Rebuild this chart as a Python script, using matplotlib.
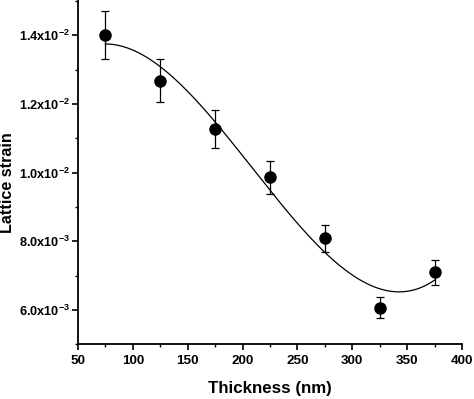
import numpy as np
import matplotlib
matplotlib.use("Agg")
import matplotlib.pyplot as plt
from matplotlib.ticker import FixedLocator, FixedFormatter, MultipleLocator

thickness = [75, 125, 175, 225, 275, 325, 375]
strain = [0.01400, 0.01268, 0.01127, 0.00986, 0.00809, 0.00607, 0.00710]
strain_err = [0.00070, 0.00063, 0.00055, 0.00049, 0.00040, 0.00031, 0.00036]

x_ticks = [50, 100, 150, 200, 250, 300, 350, 400]
y_ticks = [0.006, 0.008, 0.010, 0.012, 0.014]
y_tick_labels = [r'6.0x10$^{-3}$', r'8.0x10$^{-3}$', r'1.0x10$^{-2}$',
                 r'1.2x10$^{-2}$', r'1.4x10$^{-2}$']

plt.rcParams['font.family'] = ['Liberation Sans', 'DejaVu Sans']
plt.rcParams['font.weight'] = 'bold'
plt.rcParams['mathtext.fontset'] = 'custom'
plt.rcParams['mathtext.rm'] = 'Liberation Sans:bold'
plt.rcParams['mathtext.it'] = 'Liberation Sans:bold'
plt.rcParams['mathtext.bf'] = 'Liberation Sans:bold'
plt.rcParams['mathtext.default'] = 'rm'

fig = plt.figure(figsize=(4.74, 3.99), dpi=100)
ax = fig.add_axes([0.1646, 0.137, 0.81, 0.8605])

# cubic fit curve, lightly weighted by the error bars
coef = np.polyfit(thickness, strain, 3, w=np.array(strain_err) ** -0.5)
xf = np.linspace(thickness[0], thickness[-1], 300)
ax.plot(xf, np.polyval(coef, xf), color='black', lw=0.9)

ax.errorbar(thickness, strain, yerr=strain_err, fmt='o', color='black',
            markersize=8, ecolor='black', elinewidth=0.9, capsize=3, capthick=0.9)

ax.set_xlim(50, 400)
ax.set_ylim(0.005, 0.015)
ax.xaxis.set_major_locator(FixedLocator(x_ticks))
ax.xaxis.set_minor_locator(MultipleLocator(25))
ax.yaxis.set_major_locator(FixedLocator(y_ticks))
ax.yaxis.set_major_formatter(FixedFormatter(y_tick_labels))
ax.yaxis.set_minor_locator(MultipleLocator(0.001))

for s in ['top', 'right']:
    ax.spines[s].set_visible(False)
for s in ['left', 'bottom']:
    ax.spines[s].set_linewidth(1.3)

ax.tick_params(axis='both', which='major', direction='out', length=4, width=1.2)
ax.tick_params(axis='both', which='minor', direction='out', length=2.5, width=1.0)
ax.tick_params(axis='x', labelsize=9.7, pad=4)
ax.tick_params(axis='y', labelsize=9.2, pad=2)

ax.set_xlabel('Thickness (nm)', fontsize=12.2, fontweight='bold', labelpad=10)
ax.set_ylabel('Lattice strain', fontsize=11.6, fontweight='bold')
ax.yaxis.set_label_coords(-0.165, 0.47)

fig.savefig('out.png', dpi=100)
